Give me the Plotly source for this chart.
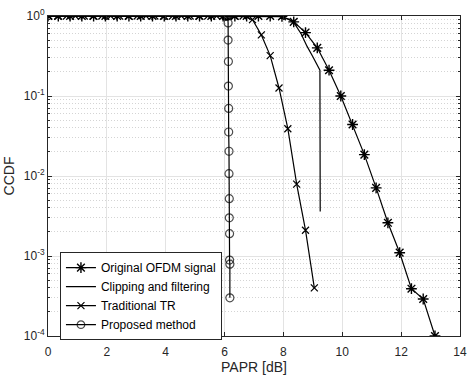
import plotly.graph_objects as go

# ---- data ----
orig_x = [0.0, 0.35, 0.75, 1.15, 1.55, 1.95, 2.35, 2.75, 3.15, 3.55, 3.95, 4.35, 4.75,
          5.15, 5.55, 5.95, 6.35, 6.75, 7.15, 7.55, 7.95, 8.35, 8.75, 9.15, 9.55, 9.95,
          10.35, 10.75, 11.15, 11.55, 11.95, 12.35, 12.75, 13.15]
orig_y = [1, 1, 1, 1, 1, 1, 1, 1, 1, 1, 1, 1, 1, 1, 1, 1, 1, 1, 1, 1, 0.99, 0.845, 0.62,
          0.40, 0.21, 0.10, 0.044, 0.0185, 0.0071, 0.0026, 0.0011, 3.9e-4, 2.9e-4, 1e-4]

clip_x = [0.0, 7.6, 7.9, 8.2, 8.4, 8.6, 8.8, 9.0, 9.2, 9.24, 9.25]
clip_y = [1, 1, 0.98, 0.91, 0.78, 0.60, 0.42, 0.31, 0.22, 0.21, 0.0036]

tr_x = [0.03, 0.33, 0.63, 0.93, 1.23, 1.53, 1.83, 2.13, 2.43, 2.73, 3.03, 3.33, 3.63,
        3.93, 4.23, 4.53, 4.83, 5.13, 5.43, 5.73, 6.03, 6.33, 6.63, 6.95, 7.25, 7.55,
        7.85, 8.15, 8.45, 8.75, 9.05]
tr_y = [1, 1, 1, 1, 1, 1, 1, 1, 1, 1, 1, 1, 1, 1, 1, 1, 1, 1, 1, 1, 1, 1, 1, 0.9,
        0.58, 0.32, 0.126, 0.039, 0.0079, 0.0021, 4e-4]

prop_x = [0.0, 6.02, 6.05, 6.08, 6.1, 6.11, 6.12, 6.12, 6.13, 6.13, 6.14, 6.14, 6.15,
          6.15, 6.16, 6.16, 6.17, 6.17, 6.18, 6.18]
prop_y = [1, 1, 1, 1, 1, 1, 0.82, 0.50, 0.27, 0.133, 0.070, 0.0355, 0.0204, 0.0107,
          0.0052, 0.0030, 0.0019, 8.9e-4, 7.9e-4, 3.0e-4]

y_tickvals = [1e-4, 1e-3, 1e-2, 1e-1, 1]
y_ticktext = ["10<sup>-4</sup>", "10<sup>-3</sup>", "10<sup>-2</sup>", "10<sup>-1</sup>", "10<sup>0</sup>"]
x_tickvals = [0, 2, 4, 6, 8, 10, 12, 14]

minor_vals = [m * 10.0 ** e for e in range(-4, 0) for m in range(2, 10)]

FONT = "Liberation Sans, Arial, sans-serif"
INK = "#262626"

fig = go.Figure()
line = dict(color="black", width=1.2)
fig.add_trace(go.Scatter(x=orig_x, y=orig_y, mode="lines+markers", name="Original OFDM signal",
                         line=line, marker=dict(symbol="asterisk-open", size=9,
                                                line=dict(color="black", width=1.4))))
fig.add_trace(go.Scatter(x=clip_x, y=clip_y, mode="lines", name="Clipping and filtering",
                         line=line))
fig.add_trace(go.Scatter(x=tr_x, y=tr_y, mode="lines+markers", name="Traditional TR",
                         line=line, marker=dict(symbol="x-thin-open", size=7,
                                                line=dict(color="black", width=1.2))))
prop_sizes = [0] + [8] * (len(prop_x) - 1)
fig.add_trace(go.Scatter(x=prop_x, y=prop_y, mode="lines+markers", name="Proposed method",
                         line=line, marker=dict(symbol="circle-open", size=prop_sizes,
                                                color="black",
                                                line=dict(color="black", width=1.2))))

fig.update_layout(
    width=474, height=379,
    margin=dict(l=48, r=8, t=7, b=43),
    paper_bgcolor="white", plot_bgcolor="white",
    font=dict(family=FONT, size=12, color=INK),
    showlegend=True,
    legend=dict(x=0.029, y=0.262, xanchor="left", yanchor="top",
                bgcolor="white", bordercolor=INK, borderwidth=1,
                font=dict(family=FONT, size=12, color="black"),
                tracegroupgap=0, itemwidth=30),
)
fig.update_xaxes(
    range=[0, 14], tickvals=x_tickvals, ticks="inside", ticklen=4, tickcolor=INK,
    showline=True, linecolor=INK, linewidth=1, mirror="allticks",
    showgrid=True, gridcolor="#e3e3e3", gridwidth=1, zeroline=False,
    tickfont=dict(size=12, color=INK), ticklabelstandoff=5, ticklabeloverflow="allow",
    title=dict(text="PAPR [dB]", font=dict(size=14, color=INK), standoff=3),
)
fig.update_yaxes(
    type="log", range=[-4, 0], tickvals=y_tickvals, ticktext=y_ticktext,
    ticks="inside", ticklen=4, tickcolor=INK,
    showline=True, linecolor=INK, linewidth=1, mirror="allticks",
    showgrid=True, gridcolor="#e3e3e3", gridwidth=1, zeroline=False,
    tickfont=dict(size=12, color=INK), ticklabeloverflow="allow",
    minor=dict(tickvals=minor_vals, ticks="inside", ticklen=2, tickcolor=INK,
               showgrid=True, gridcolor="#d4d4d4", griddash="1px,2px", gridwidth=1),
    title=dict(text="CCDF", font=dict(size=14, color=INK), standoff=5),
)

fig.write_html("out.html", config={"displayModeBar": False},
               post_script="document.body.style.margin='0';document.body.style.padding='0';")
